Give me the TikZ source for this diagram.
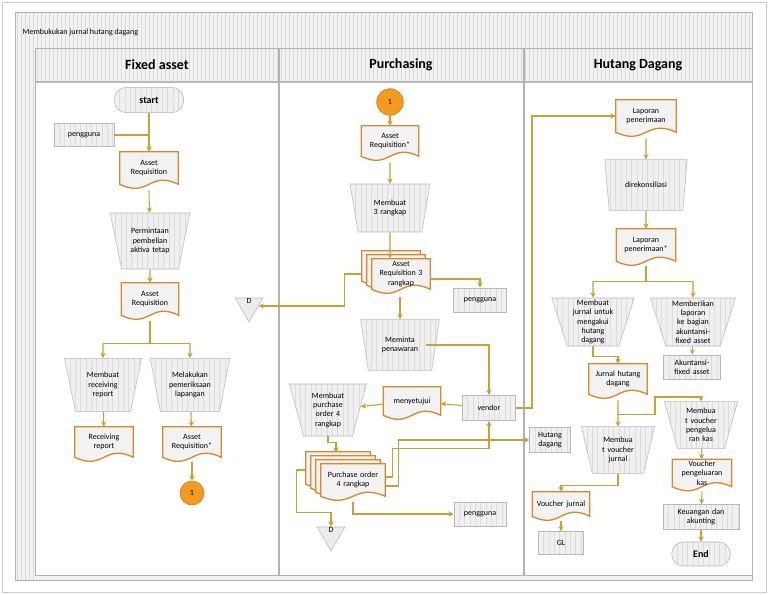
\documentclass[tikz,border=0pt]{standalone}
\usepackage{fontspec}
\setmainfont{Carlito}
\usetikzlibrary{shapes.geometric,arrows.meta,calc}
\definecolor{edge}{HTML}{C9A235}
\definecolor{docorange}{HTML}{D9892B}
\definecolor{conn}{HTML}{F49A1F}
\pgfdeclarelayer{bg}\pgfdeclarelayer{back}\pgfdeclarelayer{mid}
\pgfsetlayers{bg,back,mid,main}
\tikzset{
  hatch/.style={path picture={\foreach \i in {1,...,32}
    \draw[gray!28,line width=.3pt] ([xshift=\i*4pt]path picture bounding box.south west) -- ([xshift=\i*4pt]path picture bounding box.north west);}},
  lbl/.style={font=\fontsize{6}{7}\selectfont, align=center},
  proc/.style={lbl, rectangle, fill=gray!12, draw=gray!55, hatch},
  manual/.style={lbl, trapezium, shape border rotate=180, trapezium angle=72, trapezium stretches=true, fill=gray!12, draw=gray!55, hatch, inner sep=1pt},
  doctext/.style={lbl, rectangle, inner sep=1pt},
  docline/.style={draw=docorange, line width=1pt, fill=gray!10},
  term/.style={lbl, font=\fontsize{7.5}{8}\bfseries, rectangle, rounded corners=9pt, fill=gray!12, draw=gray!60, hatch},
  conn/.style={lbl, circle, fill=conn, draw=conn!80!black, minimum size=18pt, inner sep=0pt},
  offpage/.style={lbl, regular polygon, regular polygon sides=3, shape border rotate=180, fill=gray!15, draw=gray!55, minimum size=24pt, inner sep=0pt},
  flow/.style={draw=edge, line width=.8pt, -{Stealth[length=4pt,width=4pt]}},
  link/.style={draw=edge, line width=.8pt},
  hdr/.style={font=\fontsize{10.5}{12}\bfseries}
}
% document shape: name, x, y, w, h, text
\newcommand\mkdoc[6]{%
  \node[doctext, minimum width={#4*0.75pt}, minimum height={#5*0.75pt}, text width={(#4-6)*0.75pt}] (#1) at (#2,#3) {#6};
  \begin{pgfonlayer}{mid}
  \path[docline] (#1.north west) -- (#1.north east) -- (#1.south east)
    .. controls ($(#1.south)+(0,-14)$) and ($(#1.south)+(0,14)$) .. (#1.south west) -- cycle;
  \end{pgfonlayer}}
% stacked documents: name, number of back copies
\newcommand\mkstackback[2]{%
  \begin{pgfonlayer}{back}
  \foreach \s in {#2,...,1}
  \path[docline] ([shift={(-\s*5,-\s*4)}]#1.north west) -- ([shift={(-\s*5,-\s*4)}]#1.north east) -- ([shift={(-\s*5,-\s*4)}]#1.south east)
    .. controls ([shift={(-\s*5,-\s*4-14)}]#1.south) and ([shift={(-\s*5,-\s*4+14)}]#1.south) .. ([shift={(-\s*5,-\s*4)}]#1.south west) -- cycle;
  \end{pgfonlayer}}
\begin{document}
\begin{tikzpicture}[x=0.75pt,y=-0.75pt]
\useasboundingbox (0,0) rectangle (768,594);
\begin{pgfonlayer}{bg}
\draw[gray!40] (2,2) rectangle (766,592);
\fill[gray!10] (15,12) rectangle (752,580);
\foreach \i in {0,...,183} \draw[gray!28,line width=.3pt] (17+\i*4,12) -- (17+\i*4,82);
\foreach \i in {0,...,4} \draw[gray!28,line width=.3pt] (17+\i*4,82) -- (17+\i*4,580);
\fill[white] (35,82) rectangle (752,575);
\draw[gray!60] (15,12) rectangle (752,580);
\draw[gray!60] (35,48) -- (752,48);
\draw[gray!60] (35,48) -- (35,575) -- (752,575);
\draw[gray!55,line width=1.5pt] (35,82) -- (752,82);
\draw[gray!60,line width=1pt] (279,48) -- (279,575);
\draw[gray!60,line width=1pt] (524,48) -- (524,575);
\end{pgfonlayer}
\node[lbl, anchor=west] (title) at (18,32) {Membukukan jurnal hutang dagang};
\node[hdr] (h1) at (157,65) {Fixed asset};
\node[hdr] (h2) at (401,65) {Purchasing};
\node[hdr] (h3) at (638,65) {Hutang Dagang};

% ---- Fixed asset
\node[term, minimum width=52pt, minimum height=19pt] (start) at (149,100) {start};
\node[proc, minimum width=45pt, minimum height=17pt] (peng1) at (84,135) {pengguna};
\mkdoc{ar1}{149}{168}{58}{32}{Asset\\Requisition}
\node[manual, minimum width=60pt, minimum height=42pt, text width=32pt] (minta) at (150,241) {Permintaan pembelian aktiva tetap};
\mkdoc{ar2}{150}{299}{57}{32}{Asset\\Requisition}
\node[manual, minimum width=58pt, minimum height=40pt, text width=32pt] (mrr) at (103,385) {Membuat receiving report};
\node[manual, minimum width=60pt, minimum height=40pt, text width=38pt] (mlp) at (190,385) {Melakukan pemeriksaan lapangan};
\mkdoc{rr}{104}{442}{58}{30}{Receiving\\report}
\mkdoc{ars}{192}{442}{58}{30}{Asset\\Requisition*}
\node[conn] (c1) at (192,493) {1};
\node[offpage] (d1) at (249,306) {};
\node[lbl] at (249,301) {D};

\draw[flow] (start) -- (ar1);
\draw[link] (peng1) -- (peng1 -| start);
\draw[flow] ($(ar1.south)+(0,6)$) -- (minta);
\draw[flow] (minta) -- (ar2);
\draw[link] ($(ar2.south)+(0,6)$) -- ($(ar2.south)+(0,28)$) coordinate (j1);
\draw[flow] (j1 -| mrr) -- (mrr.north);
\draw[flow] (j1 -| mlp) -- (mlp.north);
\draw[link] (j1 -| mrr) -- (j1 -| mlp);
\draw[flow] (mrr) -- (rr);
\draw[flow] (mlp) -- (ars);
\draw[flow] ($(ars.south)+(0,5)$) -- (c1);

% ---- Purchasing
\node[conn, minimum size=20pt] (c2) at (390,102) {1};
\mkdoc{pars}{390}{141}{57}{30}{Asset\\Requisition*}
\node[manual, minimum width=60pt, minimum height=36pt, text width=34pt] (m3) at (390,208) {Membuat 3 rangkap};
\mkdoc{ar3}{401}{274}{58}{30}{Asset\\Requisition 3\\rangkap}
\mkstackback{ar3}{2}
\node[proc, minimum width=40pt, minimum height=18pt] (peng2) at (480,300) {pengguna};
\node[manual, minimum width=59pt, minimum height=38pt, text width=36pt] (mpen) at (400,345) {Meminta penawaran};
\node[proc, minimum width=40pt, minimum height=19pt] (vendor) at (489,408) {vendor};
\mkdoc{setuju}{412}{401}{57}{28}{menyetujui}
\node[manual, minimum width=58pt, minimum height=39pt, text width=30pt] (mpo) at (328,410) {Membuat purchase order 4 rangkap};
\mkdoc{po}{353}{480}{64}{32}{Purchase order\\4 rangkap}
\mkstackback{po}{3}
\node[proc, minimum width=39pt, minimum height=18pt] (peng3) at (480,514) {pengguna};
\node[offpage] (d2) at (331,535) {};
\node[lbl] at (331,530) {D};
\node[proc, minimum width=27pt, minimum height=18pt, text width=24pt] (hd) at (550,440) {Hutang dagang};

\draw[flow] (c2) -- (pars);
\draw[flow] ($(pars.south)+(0,6)$) -- (m3);
\draw[flow] (m3) -- ($(m3.south)+(0,26)$);
\draw[flow] ($(ar3.east)+(0,5)$) -| (peng2);
\draw[flow] ($(ar3.south)+(-1,8)$) -- (mpen.north -| {$(ar3.south)+(-1,8)$});
\draw[flow] ([xshift=-7.5pt]ar3.west) -- ++(-17,0) |- (d1.east);
\draw[flow] ($(mpen.north east)!0.5!(mpen.south east)+(0,0)$) -| (vendor);
\draw[flow] (vendor) -- (setuju);
\draw[flow] (setuju) -- (mpo);
\draw[flow] (mpo.south) -- ++(0,6) -| ($(po.north)+(-17,-11)$);
\draw[flow] ($(po.east)+(0,-3)$) -- ++(7,0) |- ($(vendor.south)+(0,28)$) -- (vendor.south);
\draw[flow] ($(po.east)+(0,6)$) -- ++(13,0) |- (hd.west);
\draw[flow] ($(po.south)+(0,6)$) |- (peng3.west);
\draw[flow] ($(po.west)+(-15,-10)$) -- ++(-9,0) |- ($(d2.north)+(0,-14)$) -- (d2.north);

% ---- Hutang Dagang
\mkdoc{lp}{646}{116}{60}{32}{Laporan\\penerimaan}
\node[manual, minimum width=62pt, minimum height=38pt] (rek) at (646,185) {direkonsiliasi};
\mkdoc{lps}{646}{245}{59}{32}{Laporan\\penerimaan*}
\node[manual, minimum width=62pt, minimum height=36pt, text width=36pt] (mj) at (593,322) {Membuat jurnal untuk mengakui hutang dagang};
\node[manual, minimum width=64pt, minimum height=36pt, text width=38pt] (mb) at (693,322) {Memberikan laporan ke bagian akuntansi-fixed asset};
\node[proc, minimum width=40pt, minimum height=18pt, text width=36pt] (akt) at (692,367) {Akuntansi-fixed asset};
\mkdoc{jh}{618}{379}{58}{30}{Jurnal hutang\\dagang}
\node[manual, minimum width=55pt, minimum height=35pt, text width=30pt] (mvj) at (618,450) {Membua t voucher jurnal};
\node[manual, minimum width=55pt, minimum height=35pt, text width=30pt] (mvp) at (701,425) {Membua t voucher pengelua ran kas};
\mkdoc{vp}{702}{473}{59}{26}{Voucher\\pengeluaran\\kas}
\node[proc, minimum width=53pt, minimum height=19pt, text width=50pt] (keu) at (701,517) {Keuangan dan\\akunting};
\node[term, minimum width=44pt, minimum height=18pt] (endn) at (701,554) {End};
\mkdoc{vj}{561}{504}{57}{24}{Voucher jurnal}
\node[proc, minimum width=34pt, minimum height=17pt] (gl) at (561,543) {GL};

\draw[flow] (vendor.east) -- (532,408) |- (lp.west);
\draw[flow] ($(lp.south)+(0,6)$) -- (rek);
\draw[flow] (rek) -- (lps);
\draw[link] ($(lps.south)+(0,5)$) -- ($(lps.south)+(0,20)$) coordinate (j2);
\draw[link] (j2 -| mj) -- (j2 -| mb);
\draw[flow] (j2 -| mj) -- (mj.north);
\draw[flow] (j2 -| mb) -- (mb.north);
\draw[flow] (mj.south) -- ++(0,10) -| (jh.north);
\draw[flow] (mb) -- (akt);
\draw[flow] ($(jh.south)+(0,6)$) -- (mvj.north);
\draw[flow] ($(jh.south)+(0,20)$) -| (655,397) -| (mvp.north);
\draw[flow] (mvj.south) -- ++(0,12) -| (vj.north);
\draw[flow] ($(vj.south)+(0,5)$) -- (gl);
\draw[flow] (mvp) -- (vp);
\draw[flow] ($(vp.south)+(0,5)$) -- (keu);
\draw[flow] (keu) -- (endn);
\end{tikzpicture}
\end{document}
